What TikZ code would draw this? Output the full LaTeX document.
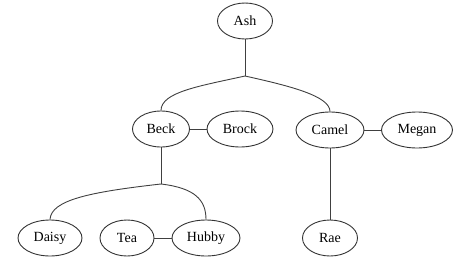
\documentclass[tikz,border=0pt]{standalone}
\usepackage{fontspec}
\setmainfont{Liberation Serif}
\usetikzlibrary{shapes.geometric}
\begin{document}
\begin{tikzpicture}[x=1pt,y=-1pt,
  person/.style={draw=black!80,line width=0.9pt,ellipse,inner sep=0pt,minimum height=36pt,font=\fontsize{14}{16}\selectfont},
  link/.style={draw=black!75,line width=0.9pt}]
\useasboundingbox (0,0) rectangle (474,276);
% generation 1
\node[person,minimum width=55pt] (ash) at (245,21) {Ash};
% generation 2
\node[person,minimum width=57pt] (beck) at (161,129) {Beck};
\node[person,minimum width=66pt] (brock) at (240,129) {Brock};
\node[person,minimum width=68pt] (camel) at (330,130) {Camel};
\node[person,minimum width=71pt] (megan) at (417,130) {Megan};
% generation 3
\node[person,minimum width=64pt] (daisy) at (50,238) {Daisy};
\node[person,minimum width=54pt] (tea) at (127,238) {Tea};
\node[person,minimum width=68pt] (hubby) at (206,238) {Hubby};
\node[person,minimum width=55pt] (rae) at (330,238) {Rae};
% junctions
\coordinate (j1) at (245,76);
\coordinate (j2) at (161,184);
% partners
\draw[link] (beck) -- (brock);
\draw[link] (camel) -- (megan);
\draw[link] (tea) -- (hubby);
% children
\draw[link] (ash) -- (j1);
\draw[link] (j1) .. controls (200,86) and (161,92) .. (beck.north);
\draw[link] (j1) .. controls (290,86) and (330,96) .. (camel.north);
\draw[link] (beck) -- (j2);
\draw[link] (j2) .. controls (90,192) and (51,200) .. (daisy.north);
\draw[link] (j2) .. controls (195,188) and (206,200) .. (hubby.north);
\draw[link] (camel) -- (rae);
\end{tikzpicture}
\end{document}
